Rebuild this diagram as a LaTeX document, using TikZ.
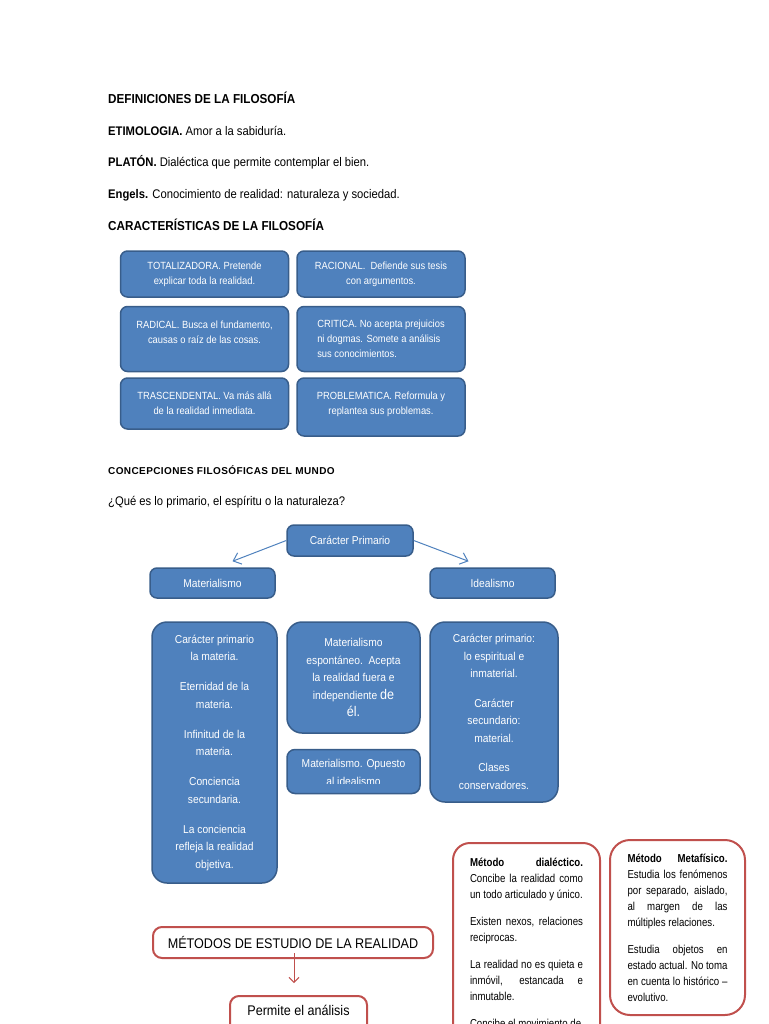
\documentclass[tikz,border=0pt]{standalone}
\usepackage{fontspec}
\setmainfont{Liberation Sans}[FakeStretch=0.9]
\newfontfamily\narrowfont{Liberation Sans}[FakeStretch=0.84]
\newfontfamily\spacedfont{Liberation Sans}[LetterSpace=4]
\usetikzlibrary{arrows.meta,positioning}
\definecolor{bluefill}{RGB}{79,129,189}
\definecolor{blueline}{RGB}{56,93,138}
\definecolor{redline}{RGB}{192,80,77}
\tikzset{
  heading/.style={anchor=base west,inner sep=0pt,font=\bfseries\fontsize{13}{15}\selectfont},
  bodyline/.style={anchor=base west,inner sep=0pt,font=\fontsize{12.5}{15}\selectfont},
  bluebox/.style={draw=blueline,fill=bluefill,line width=1.5pt,rounded corners=7pt,
    text=white,align=center,inner sep=0pt},
  smallbox/.style={bluebox,minimum width=168pt,font=\fontsize{10.4}{15}\selectfont},
  bigbox/.style={bluebox,rounded corners=15pt,font=\fontsize{11.4}{17.5}\selectfont},
  redbox/.style={draw=redline,fill=white,line width=2pt,rounded corners=9pt,inner sep=0pt},
  redtext/.style={redbox,rounded corners=17pt,align=justify,inner ysep=12pt,
    font=\narrowfont\fontsize{11.5}{16}\selectfont},
  link/.style={draw=bluefill,line width=1pt,-{Straight Barb[length=7pt,width=12pt]}},
  redlink/.style={draw=redline,line width=1pt,-{Straight Barb[length=5pt,width=10pt]}}
}
\newcommand{\bigde}[1]{{\fontsize{14}{17}\selectfont #1}}
\begin{document}
\begin{tikzpicture}[x=1pt,y=-1pt]
\useasboundingbox (0,0) rectangle (768,1024);
\clip (0,0) rectangle (768,1024);

% definiciones
\node[heading] (def) at (108,104) {DEFINICIONES DE LA FILOSOFÍA};
\node[bodyline] (eti) at (108,136) {\textbf{ETIMOLOGIA.} Amor a la sabiduría.};
\node[bodyline] (pla) at (108,167) {\textbf{PLATÓN.} Dialéctica que permite contemplar el bien.};
\node[bodyline] (eng) at (108,199) {\textbf{Engels.} Conocimiento de realidad: naturaleza y sociedad.};
\node[heading] (car) at (108,231) {CARACTERÍSTICAS DE LA FILOSOFÍA};

% caracteristicas
\node[smallbox,minimum height=46pt] (tot) at (204.5,274) {TOTALIZADORA. Pretende\\explicar toda la realidad.};
\node[smallbox,minimum height=46pt,right=7pt of tot] (rac) {RACIONAL.\ \ Defiende sus tesis\\con argumentos.};
\node[smallbox,minimum height=65pt,below=8pt of tot] (rad) {RADICAL. Busca el fundamento,\\causas o raíz de las cosas.\\[-2pt]};
\node[smallbox,minimum height=65pt,right=7pt of rad,align=left] (cri) {CRITICA. No acepta prejuicios\\ni dogmas. Somete a análisis\\sus conocimientos.};
\node[smallbox,minimum height=51pt,below=5pt of rad] (tra) {TRASCENDENTAL. Va más allá\\de la realidad inmediata.};
\node[smallbox,minimum height=58pt,below=5pt of cri] (pro) {PROBLEMATICA. Reformula y\\replantea sus problemas.\\[-7pt]};

% concepciones
\node[anchor=base west,inner sep=0pt,font=\spacedfont\bfseries\fontsize{10}{12}\selectfont] (con) at (108,474) {CONCEPCIONES FILOSÓFICAS DEL MUNDO};
\node[bodyline] (que) at (108,505) {¿Qué es lo primario, el espíritu o la naturaleza?};

\node[bluebox,minimum width=126pt,minimum height=31pt,font=\fontsize{11.4}{14}\selectfont] (cprim) at (350,540.5) {Carácter Primario};
\node[bluebox,minimum width=125pt,minimum height=30pt,font=\fontsize{11.4}{14}\selectfont] (mat) at (212.5,583) {Materialismo};
\node[bluebox,minimum width=125pt,minimum height=30pt,font=\fontsize{11.4}{14}\selectfont] (ide) at (492.5,583) {Idealismo};
\draw[link] (cprim.west) -- ([xshift=20pt,yshift=6pt]mat.north);
\draw[link] (cprim.east) -- ([xshift=-24pt,yshift=6pt]ide.north);

\node[bigbox,minimum width=125pt,minimum height=261pt] (matl) at (214.5,752.5) {Carácter primario\\la materia.\\[12.5pt]Eternidad de la\\materia.\\[12.5pt]Infinitud de la\\materia.\\[12.5pt]Conciencia\\secundaria.\\[12.5pt]La conciencia\\refleja la realidad\\objetiva.};
\node[bigbox,minimum width=133pt,minimum height=111pt] (matesp) at (353.5,677.5) {Materialismo\\espontáneo.\ \ Acepta\\la realidad fuera e\\independiente \bigde{de}\\\bigde{él.}};
\node[bigbox,rounded corners=8pt,minimum width=133pt,minimum height=44pt,below=15pt of matesp] (matop) {};
\begin{scope}
\clip (matop.north west) rectangle ([yshift=11pt]matop.south east);
\node[align=center,text=white,inner sep=0pt,font=\fontsize{11.4}{17.5}\selectfont] (optext) at (353.5,772.5) {Materialismo. Opuesto\\al idealismo};
\end{scope}
\node[bigbox,minimum width=128pt,minimum height=180pt] (idel) at (494,712) {Carácter primario:\\lo espiritual e\\inmaterial.\\[12pt]Carácter\\secundario:\\material.\\[12pt]Clases\\conservadores.};

% metodos
\node[redtext,text width=113pt,inner xsep=17pt,anchor=north,minimum height=200pt] (dia) at (526.5,842)
  {\textbf{Método dialéctico.}\linebreak Concibe la realidad como\linebreak un todo articulado y único.\\[11pt]
   Existen nexos, relaciones\linebreak reciprocas.\\[11pt]
   La realidad no es quieta e\linebreak inmóvil, estancada e\linebreak inmutable.\\[11pt]
   Concibe el movimiento de};
\node[redtext,rounded corners=20pt,text width=100pt,inner xsep=17.5pt,minimum height=175pt] (meta) at (677.5,927.5)
  {\textbf{Método Metafísico.}\linebreak Estudia los fenómenos\linebreak por separado, aislado,\linebreak al margen de las\linebreak múltiples relaciones.\\[11pt]
   Estudia objetos en\linebreak estado actual. No toma\linebreak en cuenta lo histórico –\linebreak evolutivo.};
\node[redbox,minimum width=280pt,minimum height=31pt,font=\fontsize{14}{16}\selectfont] (met) at (293,942.5) {MÉTODOS DE ESTUDIO DE LA REALIDAD};
\node[redbox,anchor=base,minimum width=137pt,inner ysep=9pt,text height=10pt,text depth=60pt,font=\fontsize{14}{16}\selectfont] (perm) at (298.5,1015) {Permite el análisis};
\draw[redlink] ([xshift=1pt]met.south) ++(0,-6) -- ([xshift=-4.5pt,yshift=12pt]perm.north);
\end{tikzpicture}
\end{document}
